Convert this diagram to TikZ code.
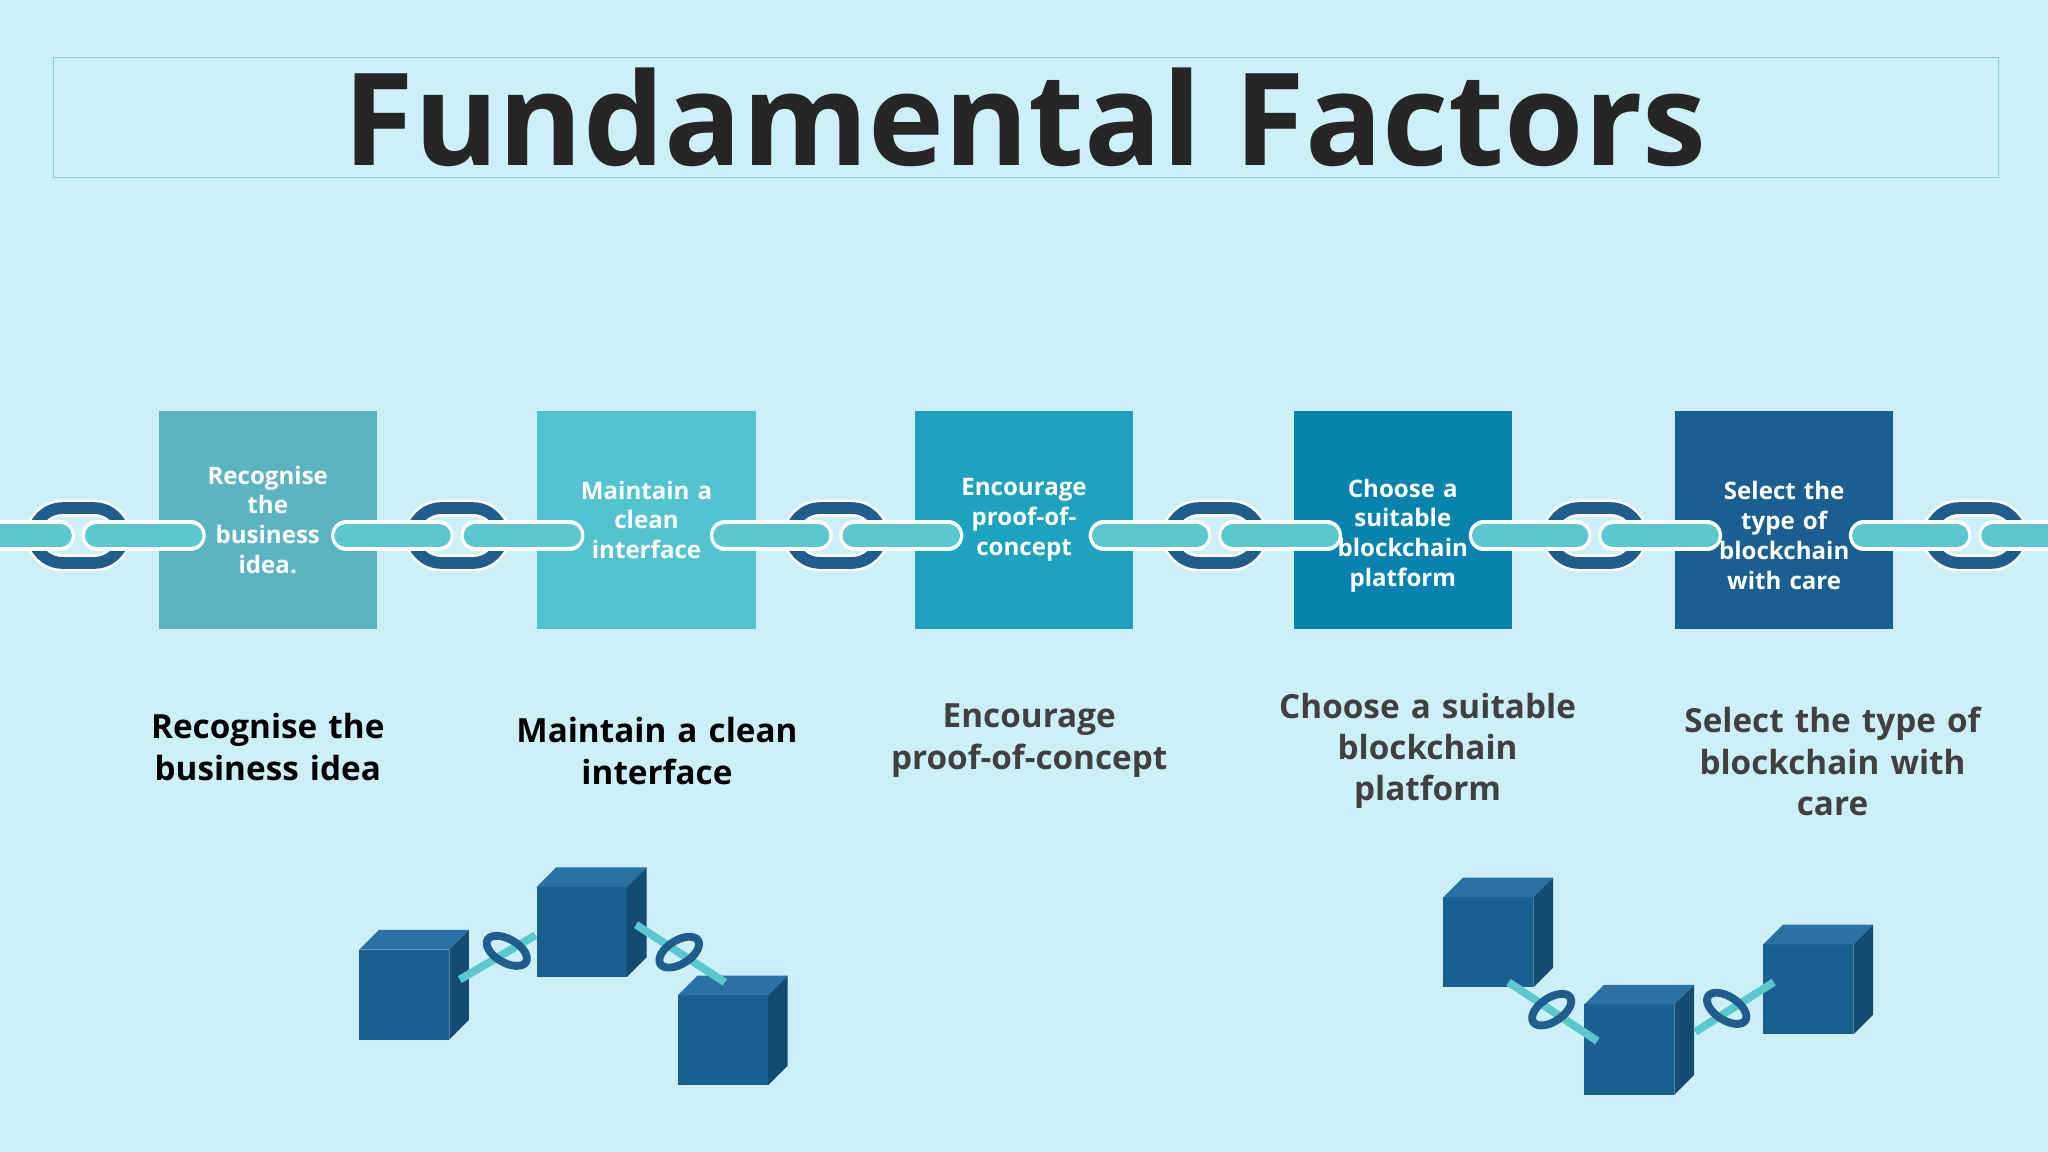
\documentclass[tikz,border=0pt]{standalone}
\usepackage{fontspec}
\setmainfont{Open Sans}
\usetikzlibrary{positioning, arrows.meta}

\definecolor{bgcol}{HTML}{CDEFF8}
\definecolor{framecol}{HTML}{8FCBE6}
\definecolor{linkdark}{HTML}{1F5E8C}
\definecolor{linkteal}{HTML}{5BC8D0}
\definecolor{boxa}{HTML}{5BB4C0}
\definecolor{boxb}{HTML}{52C3CF}
\definecolor{boxc}{HTML}{1DA3BD}
\definecolor{boxd}{HTML}{0783AE}
\definecolor{boxe}{HTML}{1A5F8F}
\definecolor{cubefront}{HTML}{195F8F}
\definecolor{cubetop}{HTML}{2A72A3}
\definecolor{cubeside}{HTML}{134B73}

\tikzset{
  step box/.style={minimum width=3.34cm, minimum height=3.34cm, inner sep=0pt, draw=none},
  step text/.style={text=white, font=\fontsize{10.5}{13}\selectfont\bfseries, align=center, text width=2.3cm},
  caption/.style={font=\fontsize{14.5}{18}\selectfont\bfseries, align=center, text width=5cm},
  link/.style={rounded corners=0.46cm, line width=0.18cm, draw=linkdark},
  bar/.style={line width=0.36cm, line cap=round},
  small bar/.style={linkteal, line width=0.12cm},
  small link/.style={linkdark, line width=0.12cm},
}

\begin{document}
\begin{tikzpicture}[x=0.02cm, y=-0.02cm]
        \useasboundingbox[fill=bgcol] (0,0) rectangle (1568,882);

        %% TITLE
        \draw[framecol, line width=0.6pt] (41,44) rectangle (1530,136);
        \node[font=\fontsize{56}{60}\selectfont\bfseries, text=black!85] (title) at (785,90) {Fundamental Factors};

        %% BOXES
        \foreach \x/\c/\n in {205/boxa/1, 495/boxb/2, 784/boxc/3, 1074/boxd/4, 1366/boxe/5}
            \node[step box, fill=\c] (s\n) at (\x,398) {};

        %% CHAIN
        \foreach \cx in {60,350,640,930,1221,1512} {
            \draw[link, draw=white, line width=0.26cm] (\cx-35,389) rectangle (\cx+35,431);
            \draw[link] (\cx-35,389) rectangle (\cx+35,431);
            \draw[bar, white, line width=0.46cm] (\cx-85,410) -- (\cx-14,410);
            \draw[bar, linkteal] (\cx-85,410) -- (\cx-14,410);
            \draw[bar, white, line width=0.46cm] (\cx+14,410) -- (\cx+86,410);
            \draw[bar, linkteal] (\cx+14,410) -- (\cx+86,410);
        }

        %% BOX TEXT
        \node[step text] at (s1) {Recognise\\the\\business\\idea.};
        \node[step text] at (s2) {Maintain a\\clean\\interface};
        \node[step text] at (s3) {Encourage\\proof-of-\\concept};
        \node[step text] at ([yshift=-0.24cm]s4.center) {Choose a\\suitable\\blockchain\\platform};
        \node[step text] at ([yshift=-0.24cm]s5.center) {Select the\\type of\\blockchain\\with care};

        %% CAPTIONS
        \node[caption, text=black] (l1) at (205,572) {Recognise the\\business idea};
        \node[caption, text=black] (l2) at (503,575) {Maintain a clean\\interface};
        \node[caption, text=black!75] (l3) at (788,567) {Encourage\\proof-of-concept};
        \node[caption, text=black!75] (l4) at (1093,575) {Choose a suitable\\blockchain\\platform};
        \node[caption, text=black!75] (l5) at (1403,583) {Select the type of\\blockchain with\\care};

        %% CUBES
        \foreach \x/\y in {275/796, 411/748, 519/831, 1105/756, 1213/838, 1350/792} {
            \fill[cubefront] (\x,\y) rectangle ++(69,-69);
            \fill[cubetop] (\x,\y-69) -- ++(15,-15) -- ++(69,0) -- ++(-15,15) -- cycle;
            \fill[cubeside] (\x+69,\y) -- ++(15,-15) -- ++(0,-69) -- ++(-15,15) -- cycle;
        }

        %% SMALL CHAINS
        \coordinate (e1) at (352,750); \coordinate (e2) at (410,716);
        \coordinate (e3) at (487,708); \coordinate (e4) at (555,752);
        \coordinate (e5) at (1155,752); \coordinate (e6) at (1223,797);
        \coordinate (e7) at (1298,790); \coordinate (e8) at (1358,752);
        \draw[small bar] (e1) -- (e2);
        \draw[small link, rotate around={-30:(388,728)}] (388,728) ellipse (17 and 9);
        \draw[small bar] (e3) -- (e4);
        \draw[small link, rotate around={32:(520,729)}] (520,729) ellipse (17 and 9);
        \draw[small bar] (e5) -- (e6);
        \draw[small link, rotate around={34:(1188,773)}] (1188,773) ellipse (17 and 9);
        \draw[small bar] (e7) -- (e8);
        \draw[small link, rotate around={-33:(1322,772)}] (1322,772) ellipse (17 and 9);
\end{tikzpicture}
\end{document}
